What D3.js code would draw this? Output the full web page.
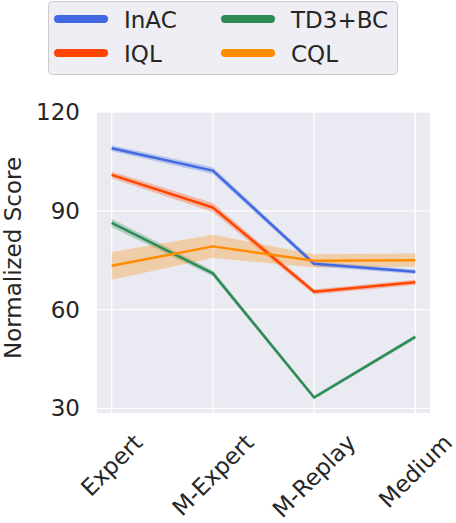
<!DOCTYPE html>
<html><head><meta charset="utf-8">
<script src="https://cdn.jsdelivr.net/npm/d3@7"></script>
<style>body{margin:0;background:#fff}svg{display:block;font-family:"DejaVu Sans",sans-serif}</style>
</head><body><svg id="c" width="456" height="523"></svg>
<script>
const categories = ["Expert","M-Expert","M-Replay","Medium"];
const seriesNames = ["InAC","IQL","TD3+BC","CQL"];
const seriesColors = ["#4169e1","#ff4500","#2e8b57","#ff8c00"];
const inacMean = [109.0,102.2,73.9,71.5];
const inacErr  = [0.9,1.0,0.8,0.7];
const iqlMean  = [100.9,91.0,65.4,68.3];
const iqlErr   = [1.0,1.4,0.8,0.8];
const td3Mean  = [86.3,71.0,33.3,51.7];
const td3Err   = [1.3,0.9,0.6,0.6];
const cqlMean  = [73.3,79.2,74.8,75.0];
const cqlErr   = [4.2,3.5,2.0,2.0];
const yTicks = [30,60,90,120];

const svg = d3.select("#c");
const L=97, R=430, T=112, B=413;
const x = d3.scaleLinear().domain([-0.145,3.145]).range([L,R]);
const y = d3.scaleLinear().domain([28.6,120]).range([B,T]);
const fs = 23, tc = "#262626";

svg.append("rect").attr("x",L).attr("y",T).attr("width",R-L).attr("height",B-T).attr("fill","#eaeaf2");
const g = svg.append("g");
g.selectAll(".hg").data(yTicks).join("line").attr("x1",L).attr("x2",R)
 .attr("y1",d=>y(d)).attr("y2",d=>y(d)).attr("stroke","#fff").attr("stroke-width",1.3);
g.selectAll(".vg").data(categories).join("line").attr("y1",T).attr("y2",B)
 .attr("x1",(d,i)=>x(i)).attr("x2",(d,i)=>x(i)).attr("stroke","#fff").attr("stroke-width",1.3);

const series = [
 {name:seriesNames[0],color:seriesColors[0],m:inacMean,e:inacErr},
 {name:seriesNames[1],color:seriesColors[1],m:iqlMean,e:iqlErr},
 {name:seriesNames[2],color:seriesColors[2],m:td3Mean,e:td3Err},
 {name:seriesNames[3],color:seriesColors[3],m:cqlMean,e:cqlErr}
];
const area = d3.area().x((d,i)=>x(i)).y0(d=>y(d[0]-d[1])).y1(d=>y(d[0]+d[1]));
const line = d3.line().x((d,i)=>x(i)).y(d=>y(d));
series.forEach(s=>{
  g.append("path").datum(s.m.map((v,i)=>[v,s.e[i]])).attr("d",area)
   .attr("fill",s.color).attr("fill-opacity",0.3).attr("stroke","none");
});
series.forEach(s=>{
  g.append("path").datum(s.m).attr("d",line).attr("fill","none")
   .attr("stroke",s.color).attr("stroke-width",2.5).attr("stroke-linejoin","round");
});

// y tick labels
svg.selectAll(".yt").data(yTicks).join("text").attr("x",80).attr("y",d=>y(d))
 .attr("dy","0.35em").attr("text-anchor","end").attr("font-size",fs).attr("fill",tc).text(d=>d);
// y label
svg.append("text").attr("transform","translate(20.5,258) rotate(-90)").attr("text-anchor","middle")
 .attr("font-size",fs).attr("fill",tc).text("Normalized Score");
// x tick labels rotated
const labelTop = 429, lh = fs*1.164;
categories.forEach((c,i)=>{
  const t = svg.append("text").attr("text-anchor","middle").attr("dy","0.346em")
    .attr("font-size",fs).attr("fill",tc).text(c);
  const w = t.node().getComputedTextLength();
  const bb = (w+lh)*Math.SQRT1_2;
  t.attr("transform",`translate(${x(i)},${labelTop+bb/2}) rotate(-45)`);
});

// legend
svg.append("rect").attr("x",48.5).attr("y",1.5).attr("width",349).attr("height",73).attr("rx",4)
 .attr("fill","#eeeef4").attr("stroke","#cccccc").attr("stroke-width",1);
const legPos = [[54,19],[54,53],[221,19],[221,53]];
series.forEach((s,i)=>{
  const [lx,ly]=legPos[i];
  svg.append("line").attr("x1",lx+4).attr("x2",lx+50).attr("y1",ly).attr("y2",ly)
   .attr("stroke",s.color).attr("stroke-width",8).attr("stroke-linecap","round");
  svg.append("text").attr("x",lx+70).attr("y",ly).attr("dy","0.37em").attr("font-size",fs)
   .attr("fill",tc).text(s.name);
});
</script></body></html>
